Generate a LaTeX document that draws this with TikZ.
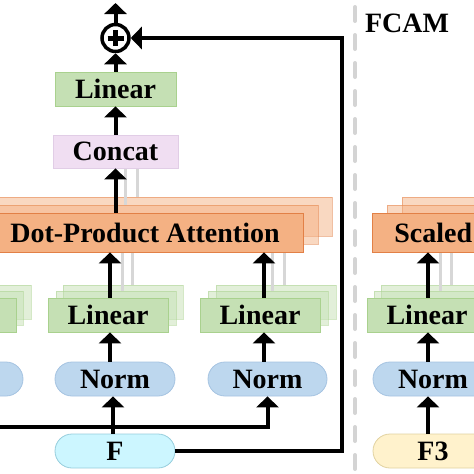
\documentclass[tikz,border=0pt]{standalone}
\usepackage{fontspec}
\setmainfont{Liberation Serif}
\usetikzlibrary{arrows.meta}
\definecolor{lgreen}{RGB}{197,224,180}
\definecolor{lgreenB}{RGB}{169,209,142}
\definecolor{lorange}{RGB}{244,177,131}
\definecolor{lorangeB}{RGB}{226,128,70}
\definecolor{lpink}{RGB}{240,222,242}
\definecolor{lpinkB}{RGB}{225,205,230}
\definecolor{lblue}{RGB}{189,215,238}
\definecolor{lblueB}{RGB}{165,195,225}
\definecolor{lcyan}{RGB}{204,246,255}
\definecolor{lcyanB}{RGB}{150,205,220}
\definecolor{lyellow}{RGB}{255,242,204}
\definecolor{lyellowB}{RGB}{225,210,160}
\definecolor{shadowgray}{RGB}{215,215,215}
\definecolor{dashgray}{RGB}{212,212,212}
\pgfdeclarelayer{backl}
\pgfdeclarelayer{midl}
\pgfdeclarelayer{shadowl}
\pgfsetlayers{backl,midl,shadowl,main}
\tikzset{
  base/.style={rectangle, inner sep=0pt, line width=0.8pt, font=\fontsize{28}{28}\selectfont\bfseries, minimum height=34pt},
  linbox/.style={base, fill=lgreen, draw=lgreenB, minimum width=120pt},
  attbox/.style={base, fill=lorange, draw=lorangeB, minimum height=39pt},
  normbox/.style={base, rounded corners=17pt, fill=lblue, draw=lblueB, minimum width=120pt},
  fbox/.style={base, rounded corners=17pt, fill=lcyan, draw=lcyanB, minimum width=120pt},
  f3box/.style={base, rounded corners=17pt, fill=lyellow, draw=lyellowB, minimum width=120pt},
  catbox/.style={base, fill=lpink, draw=lpinkB, minimum width=125pt, minimum height=33pt},
  faded/.style={fill opacity=0.5, draw opacity=0.5},
  arr/.style={line width=4pt, -{Triangle[width=22pt,length=11pt]}},
  shadowline/.style={line width=3pt, draw=shadowgray},
  sepline/.style={line width=4pt, draw=dashgray, line cap=round, dash pattern=on 14pt off 14pt},
  label/.style={font=\fontsize{28}{28}\selectfont\bfseries, inner sep=0pt}
}
\begin{document}
\begin{tikzpicture}[x=1pt,y=-1pt]
\useasboundingbox (0,0) rectangle (474,474);

% ---- back layers of stacks
\begin{pgfonlayer}{backl}
\node[linbox, faded] (l1c) at (-29,302) {};
\node[linbox, faded] (l2c) at (123,302) {};
\node[linbox, faded] (l3c) at (276,302) {};
\node[linbox, faded] (l5c) at (441,302) {};
\node[attbox, faded, minimum width=345pt] (a1c) at (159.5,216.5) {};
\node[attbox, faded, anchor=west, minimum width=200pt] (a2c) at (402,216.5) {};
\end{pgfonlayer}
\begin{pgfonlayer}{midl}
\node[linbox, faded] (l1b) at (-37,308) {};
\node[linbox, faded] (l2b) at (116,308) {};
\node[linbox, faded] (l3b) at (268,308) {};
\node[linbox, faded] (l5b) at (434,308) {};
\node[attbox, faded, minimum width=331pt] (a1b) at (152.5,224.5) {};
\node[attbox, faded, anchor=west, minimum width=200pt] (a2b) at (387,224.5) {};
\end{pgfonlayer}

% ---- front nodes
\node[linbox] (l1a) at (-44,315) {};
\node[linbox] (l2a) at (108,315) {Linear};
\node[linbox] (l3a) at (260,315) {Linear};
\node[linbox] (l5a) at (427,315) {Linear};
\node[attbox, minimum width=316pt] (a1a) at (145,232.5) {Dot-Product Attention};
\node[attbox, anchor=west, inner xsep=22pt, text width=170pt, align=left] (a2a) at (372,232.5) {Scaled};
\node[normbox] (norm1) at (-37,379) {};
\node[normbox] (norm2) at (115,379) {Norm};
\node[normbox, minimum width=119pt] (norm3) at (267.5,379) {Norm};
\node[normbox] (norm4) at (433,379) {Norm};
\node[fbox] (F) at (115,451) {F};
\node[f3box] (F3) at (433,451) {F3};
\node[catbox] (concat) at (115.5,151.5) {Concat};
\node[linbox, minimum width=121pt] (l4) at (115.5,89) {Linear};
\node[circle, draw, line width=3.5pt, minimum size=27pt, inner sep=0pt] (plus) at (115.5,38) {};
\draw[line width=5pt] ([xshift=-8pt]plus.center) -- ([xshift=8pt]plus.center);
\draw[line width=5pt] ([yshift=-8pt]plus.center) -- ([yshift=8pt]plus.center);
\node[label] (fcam) at (407,23) {FCAM};

% ---- guide coordinates
\coordinate (top) at (115.5,3);
\coordinate (c2) at (110,0);
\coordinate (fx) at (113,0);
\coordinate (c3) at (264,0);
\coordinate (c5) at (428,0);
\coordinate (rr) at (342,0);
\coordinate (leftin) at (-10,427);
\coordinate (g1) at (122,0);
\coordinate (g2) at (132,0);
\coordinate (g3) at (125,0);
\coordinate (g4) at (137,0);
\coordinate (g5) at (272,0);
\coordinate (g6) at (284,0);
\coordinate (g7) at (440,0);
\coordinate (g8) at (451,0);
\coordinate (d1) at (355,7);
\coordinate (d2) at (355,474);

% ---- shadow connectors of the stacked copies
\begin{pgfonlayer}{shadowl}
\draw[shadowline] (l2b.north -| g1) -- (a1b.south -| g1);
\draw[shadowline] (l2c.north -| g2) -- (a1c.south -| g2);
\draw[shadowline] (a1b.north -| g3) -- (concat.south -| g3);
\draw[shadowline] (a1c.north -| g4) -- (concat.south -| g4);
\draw[shadowline] (l3b.north -| g5) -- (a1b.south -| g5);
\draw[shadowline] (l3c.north -| g6) -- (a1c.south -| g6);
\draw[shadowline] (l5b.north -| g7) -- (a2b.south -| g7);
\draw[shadowline] (l5c.north -| g8) -- (a2c.south -| g8);
\end{pgfonlayer}

% ---- separator
\draw[sepline] (d1) -- (d2);

% ---- connectors
\draw[arr] (plus.north) -- (top);
\draw[arr] (l4.north -| plus) -- (plus.south);
\draw[arr] (concat.north) -- (l4.south -| concat);
\draw[arr] (a1a.north -| concat) -- (concat.south);
\draw[arr] (l2a.north -| c2) -- (a1a.south -| c2);
\draw[arr] (norm2.north -| c2) -- (l2a.south -| c2);
\draw[arr] (F.north -| fx) -- (norm2.south -| fx);
\draw[arr] (l3a.north -| c3) -- (a1a.south -| c3);
\draw[arr] (norm3.north -| c3) -- (l3a.south -| c3);
\draw[arr] (leftin) -| (norm3.south);
\draw[arr] (F.east) -| (rr |- plus) -- (plus.east);
\draw[arr] (F3.north -| c5) -- (norm4.south -| c5);
\draw[arr] (norm4.north -| c5) -- (l5a.south -| c5);
\draw[arr] (l5a.north -| c5) -- (a2a.south -| c5);
\end{tikzpicture}
\end{document}
